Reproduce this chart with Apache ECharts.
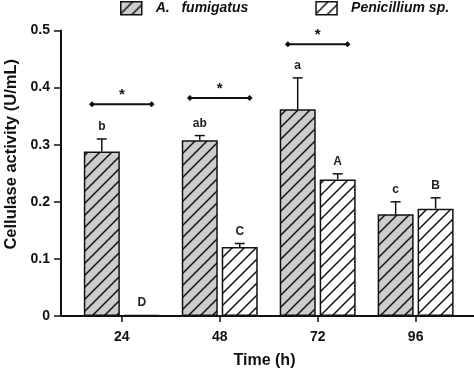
<!DOCTYPE html>
<html><head><meta charset="utf-8">
<script src="https://cdn.jsdelivr.net/npm/echarts@6/dist/echarts.min.js"></script>
<style>html,body{margin:0;padding:0;background:#fff}#c{width:474px;height:370px}</style>
</head><body><div id="c"></div>
<script>
// ---- data ----
const times = [24, 48, 72, 96];
const seriesNames = ['A.   fumigatus', 'Penicillium sp.'];
const fumigatus = [0.288, 0.308, 0.362, 0.178];
const fumigatusErr = [0.022, 0.008, 0.055, 0.022];
const fumigatusLetters = ['b', 'ab', 'a', 'c'];
const penicillium = [0.002, 0.121, 0.239, 0.188];
const penicilliumErr = [0, 0.006, 0.010, 0.019];
const penicilliumLetters = ['D', 'C', 'A', 'B'];
const sigTimes = [24, 48, 72];
const sigLevels = [0.371, 0.382, 0.476];

function hatch(bg) {
  const s = 12, c = document.createElement('canvas');
  c.width = s; c.height = s;
  const g = c.getContext('2d');
  g.fillStyle = bg; g.fillRect(0, 0, s, s);
  g.strokeStyle = '#111'; g.lineWidth = 1.5;
  g.beginPath();
  g.moveTo(0, s); g.lineTo(s, 0);
  g.moveTo(-2, 2); g.lineTo(2, -2);
  g.moveTo(s - 2, s + 2); g.lineTo(s + 2, s - 2);
  g.stroke();
  return { image: c, repeat: 'repeat' };
}
const fillA = hatch('#cdcdcd');
const fillP = hatch('#ffffff');

const BW = 36, HALF = 20;
const font = 'Arial, "Liberation Sans", sans-serif';

function errSeries(vals, errs, letters, dx) {
  return {
    type: 'custom', z: 5, silent: true,
    data: times.map((t, i) => [t, vals[i], errs[i]]),
    renderItem: function (params, api) {
      const t = api.value(0), v = api.value(1), e = api.value(2);
      const letter = letters[params.dataIndex];
      const p0 = api.coord([t, v]);
      const p1 = api.coord([t, v + e]);
      const x = p0[0] + dx;
      const children = [];
      if (e > 0) {
        children.push({ type: 'line', shape: { x1: x, y1: p0[1], x2: x, y2: p1[1] }, style: { stroke: '#111', lineWidth: 1.5 } });
        children.push({ type: 'line', shape: { x1: x - 5, y1: p1[1], x2: x + 5, y2: p1[1] }, style: { stroke: '#111', lineWidth: 1.5 } });
      }
      children.push({ type: 'text', style: { text: letter, x: x, y: p1[1] - 6, align: 'center', verticalAlign: 'bottom', font: 'bold 12px ' + font, fill: '#222' } });
      return { type: 'group', children: children };
    }
  };
}

const sigSeries = {
  type: 'custom', z: 5, silent: true,
  data: sigTimes.map((t, i) => [t, sigLevels[i]]),
  renderItem: function (params, api) {
    const t = api.value(0), y = api.value(1);
    const pl = api.coord([t - 7.3, y]);
    const pr = api.coord([t + 7.3, y]);
    const pc = api.coord([t, y]);
    const d = 3;
    function diamond(p) {
      return { type: 'polygon', shape: { points: [[p[0] - d, p[1]], [p[0], p[1] - d], [p[0] + d, p[1]], [p[0], p[1] + d]] }, style: { fill: '#111' } };
    }
    return { type: 'group', children: [
      { type: 'line', shape: { x1: pl[0], y1: pl[1], x2: pr[0], y2: pr[1] }, style: { stroke: '#111', lineWidth: 2 } },
      diamond(pl), diamond(pr),
      { type: 'text', style: { text: '*', x: pc[0], y: pc[1] - 2, align: 'center', verticalAlign: 'bottom', font: 'bold 15px ' + font, fill: '#111' } }
    ] };
  }
};

const chart = echarts.init(document.getElementById('c'), null, { renderer: 'canvas' });
chart.setOption({
  animation: false,
  backgroundColor: '#fff',
  legend: {
    top: 1, left: 120, padding: 0, itemGap: 67, itemWidth: 21, itemHeight: 13, icon: 'rect',
    data: seriesNames,
    textStyle: { fontFamily: font, fontWeight: 'bold', fontStyle: 'italic', fontSize: 14, color: '#111', padding: [0, 0, 0, 9] },
    itemStyle: { borderColor: '#111', borderWidth: 1.5 }
  },
  grid: { left: 61, right: 0, top: 30.5, bottom: 54, containLabel: false, outerBoundsMode: 'none' },
  xAxis: {
    type: 'value', min: 9.1, max: 110.3,
    name: 'Time (h)', nameLocation: 'middle', nameGap: 37,
    nameTextStyle: { fontFamily: font, fontWeight: 'bold', fontSize: 16, color: '#111', padding: [0, 6, 0, 0] },
    axisLine: { show: true, onZero: false, lineStyle: { color: '#111', width: 2 } },
    axisTick: { show: true, inside: false, length: 6, customValues: times, lineStyle: { color: '#111', width: 1.5 } },
    axisLabel: { customValues: times, fontFamily: font, fontWeight: 'bold', fontSize: 14, color: '#111', margin: 14 },
    splitLine: { show: false }
  },
  yAxis: {
    type: 'value', min: 0, max: 0.5, interval: 0.1,
    name: 'Cellulase activity (U/mL)', nameLocation: 'middle', nameGap: 35,
    nameTextStyle: { fontFamily: font, fontWeight: 'bold', fontSize: 16.5, color: '#111', padding: [0, 0, 0, 38] },
    axisLine: { show: true, lineStyle: { color: '#111', width: 2 } },
    axisTick: { show: true, length: 7, lineStyle: { color: '#111', width: 1.5 } },
    axisLabel: { fontFamily: font, fontWeight: 'bold', fontSize: 14, color: '#111', margin: 11,
      formatter: v => (Math.abs(v) < 1e-9 ? '0' : v.toFixed(1)) },
    splitLine: { show: false }
  },
  series: [
    { name: seriesNames[0], type: 'bar', barWidth: BW, barGap: '11%',
      data: times.map((t, i) => [t, fumigatus[i]]),
      itemStyle: { color: fillA, borderColor: '#111', borderWidth: 1.5 } },
    { name: seriesNames[1], type: 'bar', barWidth: BW, barGap: '11%',
      data: times.map((t, i) => [t, penicillium[i]]),
      itemStyle: { color: fillP, borderColor: '#111', borderWidth: 1.5 } },
    errSeries(fumigatus, fumigatusErr, fumigatusLetters, -HALF),
    errSeries(penicillium, penicilliumErr, penicilliumLetters, HALF),
    sigSeries
  ]
});
</script></body></html>
